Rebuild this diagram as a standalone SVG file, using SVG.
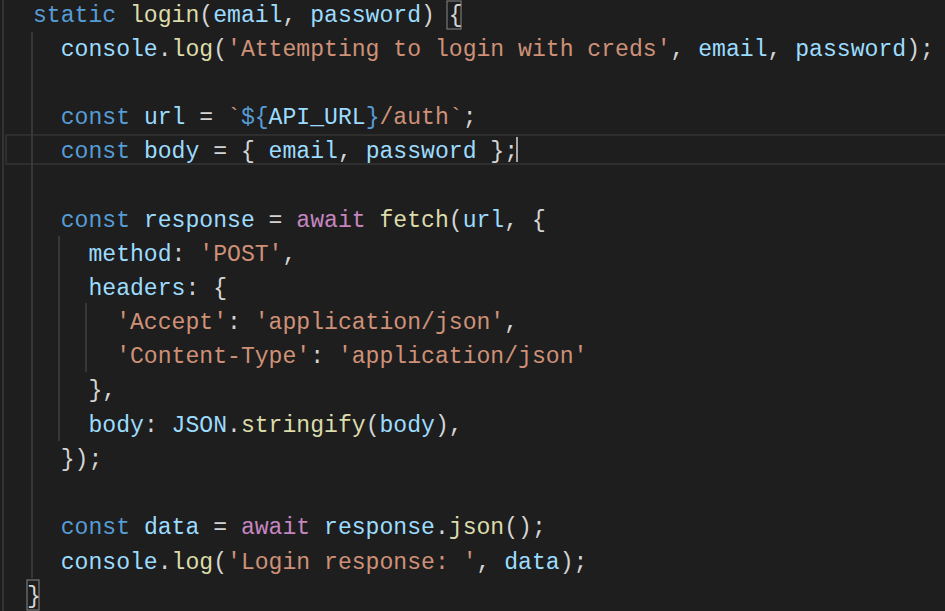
<svg xmlns="http://www.w3.org/2000/svg" width="945" height="611" viewBox="0 0 945 611">
<style>
text{font-family:"Liberation Mono","DejaVu Sans Mono",monospace;font-size:23.1px;fill:#d4d4d4;white-space:pre}
.k{fill:#569cd6}.f{fill:#dcdcaa}.v{fill:#9cdcfe}.s{fill:#ce9178}.a{fill:#c586c0}.c{fill:#4ec9b0}
.g{stroke:#404040;stroke-width:1.5}
</style>
<rect width="945" height="611" fill="#1e1e1e"/>
<line x1="3" y1="0" x2="3" y2="611" stroke="#333" stroke-width="2"/>
<rect x="6" y="135" width="945" height="29" fill="none" stroke="#2e2e2e" stroke-width="2"/>
<line class="g" x1="32" y1="32" x2="32" y2="578" stroke="#6a6a6a"/>
<line class="g" x1="59" y1="236" x2="59" y2="441"/>
<line class="g" x1="86" y1="303" x2="86" y2="372"/>
<rect x="447" y="1" width="14" height="28" fill="none" stroke="#777" stroke-width="1.2"/>
<rect x="27" y="580" width="12" height="30" fill="none" stroke="#777" stroke-width="1.2"/>
<line x1="517" y1="137" x2="517" y2="162" stroke="#d4d4d4" stroke-width="1.5"/>
<text x="33" y="22"><tspan class="k">static</tspan> <tspan class="f">login</tspan>(<tspan class="v">email</tspan>, <tspan class="v">password</tspan>) {</text>
<text x="33" y="56">  <tspan class="v">console</tspan>.<tspan class="f">log</tspan>(<tspan class="s">'Attempting to login with creds'</tspan>, <tspan class="v">email</tspan>, <tspan class="v">password</tspan>);</text>
<text x="33" y="124">  <tspan class="k">const</tspan> <tspan class="v">url</tspan> = <tspan class="s">`</tspan><tspan class="k">${</tspan><tspan class="v">API_URL</tspan><tspan class="k">}</tspan><tspan class="s">/auth`</tspan>;</text>
<text x="33" y="158">  <tspan class="k">const</tspan> <tspan class="v">body</tspan> = { <tspan class="v">email</tspan>, <tspan class="v">password</tspan> };</text>
<text x="33" y="227">  <tspan class="k">const</tspan> <tspan class="v">response</tspan> = <tspan class="a">await</tspan> <tspan class="f">fetch</tspan>(<tspan class="v">url</tspan>, {</text>
<text x="33" y="261">    <tspan class="v">method</tspan>: <tspan class="s">'POST'</tspan>,</text>
<text x="33" y="295">    <tspan class="v">headers</tspan>: {</text>
<text x="33" y="329">      <tspan class="s">'Accept'</tspan>: <tspan class="s">'application/json'</tspan>,</text>
<text x="33" y="363">      <tspan class="s">'Content-Type'</tspan>: <tspan class="s">'application/json'</tspan></text>
<text x="33" y="397">    },</text>
<text x="33" y="432">    <tspan class="v">body</tspan>: <tspan class="v">JSON</tspan>.<tspan class="f">stringify</tspan>(<tspan class="v">body</tspan>),</text>
<text x="33" y="466">  });</text>
<text x="33" y="534">  <tspan class="k">const</tspan> <tspan class="v">data</tspan> = <tspan class="a">await</tspan> <tspan class="v">response</tspan>.<tspan class="f">json</tspan>();</text>
<text x="33" y="569">  <tspan class="v">console</tspan>.<tspan class="f">log</tspan>(<tspan class="s">'Login response: '</tspan>, <tspan class="v">data</tspan>);</text>
<text x="27" y="603">}</text>
</svg>
